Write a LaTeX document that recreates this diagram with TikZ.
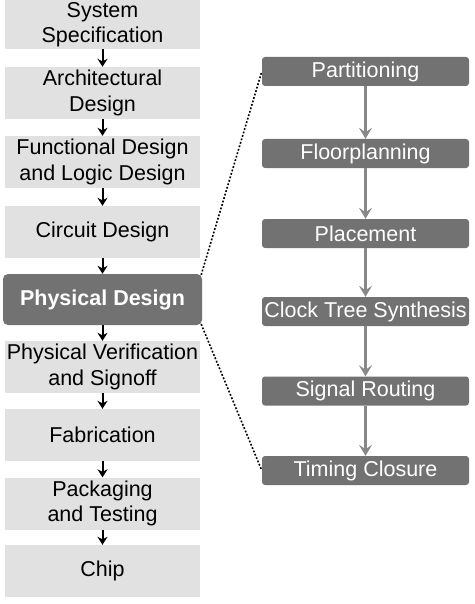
\documentclass[tikz,border=0pt]{standalone}
\usepackage{fontspec}
\setmainfont{Liberation Sans}
\usetikzlibrary{arrows.meta}
\definecolor{lightbox}{HTML}{E1E1E1}
\definecolor{darkbox}{HTML}{727272}
\definecolor{arrgray}{HTML}{888888}
\begin{document}
\begin{tikzpicture}[x=1pt,y=-1pt,
  txt/.style={font=\fontsize{21.5}{25.5}\selectfont, align=center, inner sep=0pt},
  lbox/.style={txt, fill=lightbox, minimum width=195pt, minimum height=52pt},
  pbox/.style={txt, fill=darkbox, text=white, rounded corners=5pt, minimum width=199pt, minimum height=51pt, font=\fontsize{21.5}{25.5}\selectfont\bfseries},
  rbox/.style={txt, fill=darkbox, text=white, rounded corners=3pt, minimum width=207pt, minimum height=29pt},
  larr/.style={-{Stealth[length=8pt,width=10pt,inset=2.5pt]}, line width=2pt, black},
  rarr/.style={-{Stealth[length=11pt,width=13pt,inset=4.5pt]}, line width=2.5pt, arrgray},
  dots/.style={dash pattern=on 1.8pt off 1.8pt, line width=1.6pt, black}
]
\useasboundingbox (0,0) rectangle (474,604);
% left column
\node[lbox, minimum height=49pt] (s1) at (102.5,24.5) {System\\Specification};
\node[lbox] (s2) at (102.5,93) {Architectural\\Design};
\node[lbox] (s3) at (102.5,162) {Functional Design\\and Logic Design};
\node[lbox] (s4) at (102.5,232) {Circuit Design};
\node[pbox] (pd) at (102.5,299.5) {Physical Design};
\node[lbox] (s6) at (102.5,367) {Physical Verification\\and Signoff};
\node[lbox] (s7) at (102.5,435) {Fabrication};
\node[lbox] (s8) at (102.5,503.5) {Packaging\\and Testing};
\node[lbox] (s9) at (102.5,571) {Chip};
\foreach \a/\b in {s1/s2,s2/s3,s3/s4,s4/pd,pd/s6,s6/s7,s7/s8,s8/s9}
  \draw[larr] (\a.south) -- (\b.north);
% right column
\node[rbox] (r1) at (365.5,71.5) {Partitioning};
\node[rbox] (r2) at (365.5,153.5) {Floorplanning};
\node[rbox] (r3) at (365.5,233.5) {Placement};
\node[rbox] (r4) at (365.5,311.5) {Clock Tree Synthesis};
\node[rbox] (r5) at (365.5,391) {Signal Routing};
\node[rbox] (r6) at (365.5,470.5) {Timing Closure};
\foreach \a/\b in {r1/r2,r2/r3,r3/r4,r4/r5,r5/r6}
  \draw[rarr] (\a.south) -- (\b.north);
% zoom lines
\draw[dots] ([xshift=-1pt,yshift=-1pt]pd.north east) -- (r1.west);
\draw[dots] ([xshift=-1pt,yshift=1pt]pd.south east) -- (r6.west);
\end{tikzpicture}
\end{document}
